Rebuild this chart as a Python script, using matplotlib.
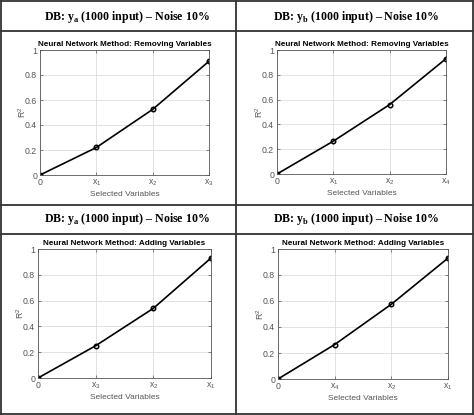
import matplotlib
matplotlib.use("Agg")
import matplotlib.pyplot as plt
from matplotlib.lines import Line2D

# values
headers = [r"DB: y$_\mathbf{a}$ (1000 input) – Noise 10%",
           r"DB: y$_\mathbf{b}$ (1000 input) – Noise 10%",
           r"DB: y$_\mathbf{a}$ (1000 input) – Noise 10%",
           r"DB: y$_\mathbf{b}$ (1000 input) – Noise 10%"]
titles = ["Neural Network Method: Removing Variables",
          "Neural Network Method: Removing Variables",
          "Neural Network Method: Adding Variables",
          "Neural Network Method: Adding Variables"]
tick_labels = [["0", "x$_1$", "x$_2$", "x$_3$"],
               ["0", "x$_1$", "x$_2$", "x$_4$"],
               ["0", "x$_3$", "x$_2$", "x$_1$"],
               ["0", "x$_4$", "x$_2$", "x$_1$"]]
r2_ya_remove = [0, 0.22, 0.525, 0.91]
r2_yb_remove = [0, 0.265, 0.56, 0.93]
r2_ya_add = [0, 0.25, 0.54, 0.93]
r2_yb_add = [0, 0.265, 0.575, 0.93]
series = [r2_ya_remove, r2_yb_remove, r2_ya_add, r2_yb_add]

W, H = 474, 415
fig = plt.figure(figsize=(W / 100, H / 100), dpi=100)
plt.rcParams["font.family"] = ["Liberation Sans", "DejaVu Sans"]
plt.rcParams["mathtext.fontset"] = "custom"
plt.rcParams["mathtext.rm"] = "Liberation Sans"
plt.rcParams["mathtext.bf"] = "Liberation Serif:bold"


def fx(px):
    return px / W


def fy(py):
    return 1 - py / H


# table frame
lw = 1.3
for y in [1, 31, 205, 234, 414]:
    fig.add_artist(Line2D([fx(1), fx(473)], [fy(y), fy(y)], color="#333333", lw=lw))
for x in [1, 236, 473]:
    fig.add_artist(Line2D([fx(x), fx(x)], [fy(1), fy(414)], color="#333333", lw=lw))

# axes boxes in pixels: left, right, top, bottom
boxes = [(40, 209, 50, 175), (277, 446, 50, 174),
         (38, 211, 249, 378), (278, 448, 249, 379)]
header_y = [17, 17, 219, 219]
header_x = [127, 356, 127, 356]
gray = "#555555"

for i in range(4):
    l, r, t, b = boxes[i]
    ax = fig.add_axes([fx(l), fy(b), fx(r) - fx(l), (b - t) / H])
    xs = range(len(series[i]))
    ax.plot(xs, series[i], color="black", lw=1.2, marker="o", ms=3.2,
            mfc="none", mec="black", mew=1.1)
    ax.set_xlim(0, 3)
    ax.set_ylim(0, 1)
    ax.set_xticks(list(xs))
    ax.set_xticklabels(tick_labels[i])
    ax.set_yticks([0, 0.2, 0.4, 0.6, 0.8, 1])
    ax.set_yticklabels(["0", "0.2", "0.4", "0.6", "0.8", "1"])
    ax.grid(True, color="#dddddd", lw=0.6)
    ax.set_axisbelow(True)
    ax.tick_params(direction="in", length=2.5, width=0.5, colors=gray,
                   labelsize=6.3, pad=2, top=True, right=True)
    for s in ax.spines.values():
        s.set_color(gray)
        s.set_linewidth(0.6)
    ax.set_title(titles[i], fontsize=5.9, fontweight="bold", pad=3)
    ax.set_xlabel("Selected Variables", fontsize=6, color=gray, labelpad=2)
    ax.set_ylabel("R$^2$", fontsize=6.3, color=gray)
    ax.yaxis.set_label_coords(-0.07, 0.5)
    fig.text(fx(header_x[i]), fy(header_y[i]), headers[i], ha="center",
             va="center", fontsize=8.6, fontweight="bold",
             family="Liberation Serif")

fig.savefig("out.png", dpi=100)
